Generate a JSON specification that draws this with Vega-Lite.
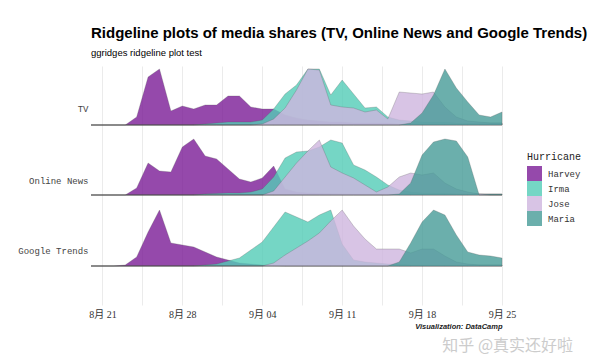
{
  "$schema": "https://vega.github.io/schema/vega-lite/v6.json",
  "width": 411,
  "height": 239,
  "autosize": "none",
  "padding": {"left": 91, "top": 66, "right": 98, "bottom": 55},
  "background": "white",
  "title": {
    "text": "Ridgeline plots of media shares (TV, Online News and Google Trends)",
    "subtitle": "ggridges ridgeline plot test",
    "anchor": "start",
    "frame": "group",
    "font": "Liberation Sans",
    "fontSize": 15,
    "fontWeight": "bold",
    "color": "#000000",
    "subtitleFont": "Liberation Sans",
    "subtitleFontSize": 9.5,
    "subtitleColor": "#000000",
    "subtitlePadding": 7,
    "offset": 9
  },
  "datasets": {
    "ridges": [
      {"m":"TV","h":"Harvey","d":"2017-08-20","v":0},{"m":"TV","h":"Harvey","d":"2017-08-23","v":0},{"m":"TV","h":"Harvey","d":"2017-08-24","v":8},{"m":"TV","h":"Harvey","d":"2017-08-25","v":48},{"m":"TV","h":"Harvey","d":"2017-08-26","v":56},{"m":"TV","h":"Harvey","d":"2017-08-27","v":14},{"m":"TV","h":"Harvey","d":"2017-08-28","v":19},{"m":"TV","h":"Harvey","d":"2017-08-29","v":16},{"m":"TV","h":"Harvey","d":"2017-08-30","v":20},{"m":"TV","h":"Harvey","d":"2017-08-31","v":20},{"m":"TV","h":"Harvey","d":"2017-09-01","v":29},{"m":"TV","h":"Harvey","d":"2017-09-02","v":29},{"m":"TV","h":"Harvey","d":"2017-09-03","v":18},{"m":"TV","h":"Harvey","d":"2017-09-04","v":16},{"m":"TV","h":"Harvey","d":"2017-09-05","v":16},{"m":"TV","h":"Harvey","d":"2017-09-06","v":10},{"m":"TV","h":"Harvey","d":"2017-09-07","v":7},{"m":"TV","h":"Harvey","d":"2017-09-08","v":5},{"m":"TV","h":"Harvey","d":"2017-09-09","v":4},{"m":"TV","h":"Harvey","d":"2017-09-10","v":3},{"m":"TV","h":"Harvey","d":"2017-09-11","v":3},{"m":"TV","h":"Harvey","d":"2017-09-12","v":2},{"m":"TV","h":"Harvey","d":"2017-09-15","v":2},{"m":"TV","h":"Harvey","d":"2017-09-16","v":1},{"m":"TV","h":"Harvey","d":"2017-09-25","v":1},
      {"m":"TV","h":"Irma","d":"2017-08-20","v":0},{"m":"TV","h":"Irma","d":"2017-08-29","v":0},{"m":"TV","h":"Irma","d":"2017-08-30","v":1},{"m":"TV","h":"Irma","d":"2017-08-31","v":2},{"m":"TV","h":"Irma","d":"2017-09-01","v":3},{"m":"TV","h":"Irma","d":"2017-09-03","v":3},{"m":"TV","h":"Irma","d":"2017-09-04","v":5},{"m":"TV","h":"Irma","d":"2017-09-05","v":16},{"m":"TV","h":"Irma","d":"2017-09-06","v":31},{"m":"TV","h":"Irma","d":"2017-09-07","v":40},{"m":"TV","h":"Irma","d":"2017-09-08","v":56},{"m":"TV","h":"Irma","d":"2017-09-09","v":56},{"m":"TV","h":"Irma","d":"2017-09-10","v":30},{"m":"TV","h":"Irma","d":"2017-09-11","v":45},{"m":"TV","h":"Irma","d":"2017-09-12","v":31},{"m":"TV","h":"Irma","d":"2017-09-13","v":17},{"m":"TV","h":"Irma","d":"2017-09-14","v":18},{"m":"TV","h":"Irma","d":"2017-09-15","v":8},{"m":"TV","h":"Irma","d":"2017-09-16","v":5},{"m":"TV","h":"Irma","d":"2017-09-17","v":4},{"m":"TV","h":"Irma","d":"2017-09-18","v":3},{"m":"TV","h":"Irma","d":"2017-09-20","v":3},{"m":"TV","h":"Irma","d":"2017-09-21","v":2},{"m":"TV","h":"Irma","d":"2017-09-25","v":2},
      {"m":"TV","h":"Jose","d":"2017-08-20","v":0},{"m":"TV","h":"Jose","d":"2017-09-03","v":0},{"m":"TV","h":"Jose","d":"2017-09-04","v":1},{"m":"TV","h":"Jose","d":"2017-09-05","v":6},{"m":"TV","h":"Jose","d":"2017-09-06","v":17},{"m":"TV","h":"Jose","d":"2017-09-07","v":35},{"m":"TV","h":"Jose","d":"2017-09-08","v":56},{"m":"TV","h":"Jose","d":"2017-09-09","v":55},{"m":"TV","h":"Jose","d":"2017-09-10","v":20},{"m":"TV","h":"Jose","d":"2017-09-11","v":18},{"m":"TV","h":"Jose","d":"2017-09-12","v":17},{"m":"TV","h":"Jose","d":"2017-09-13","v":13},{"m":"TV","h":"Jose","d":"2017-09-14","v":15},{"m":"TV","h":"Jose","d":"2017-09-15","v":6},{"m":"TV","h":"Jose","d":"2017-09-16","v":33},{"m":"TV","h":"Jose","d":"2017-09-17","v":32},{"m":"TV","h":"Jose","d":"2017-09-18","v":31},{"m":"TV","h":"Jose","d":"2017-09-19","v":33},{"m":"TV","h":"Jose","d":"2017-09-20","v":18},{"m":"TV","h":"Jose","d":"2017-09-21","v":8},{"m":"TV","h":"Jose","d":"2017-09-22","v":4},{"m":"TV","h":"Jose","d":"2017-09-23","v":3},{"m":"TV","h":"Jose","d":"2017-09-24","v":2},{"m":"TV","h":"Jose","d":"2017-09-25","v":2},
      {"m":"TV","h":"Maria","d":"2017-08-20","v":0},{"m":"TV","h":"Maria","d":"2017-09-16","v":0},{"m":"TV","h":"Maria","d":"2017-09-17","v":2},{"m":"TV","h":"Maria","d":"2017-09-18","v":12},{"m":"TV","h":"Maria","d":"2017-09-19","v":30},{"m":"TV","h":"Maria","d":"2017-09-20","v":56},{"m":"TV","h":"Maria","d":"2017-09-21","v":37},{"m":"TV","h":"Maria","d":"2017-09-22","v":23},{"m":"TV","h":"Maria","d":"2017-09-23","v":10},{"m":"TV","h":"Maria","d":"2017-09-24","v":8},{"m":"TV","h":"Maria","d":"2017-09-25","v":13},
      {"m":"ON","h":"Harvey","d":"2017-08-20","v":0},{"m":"ON","h":"Harvey","d":"2017-08-23","v":0},{"m":"ON","h":"Harvey","d":"2017-08-24","v":7},{"m":"ON","h":"Harvey","d":"2017-08-25","v":32},{"m":"ON","h":"Harvey","d":"2017-08-26","v":24},{"m":"ON","h":"Harvey","d":"2017-08-27","v":23},{"m":"ON","h":"Harvey","d":"2017-08-28","v":48},{"m":"ON","h":"Harvey","d":"2017-08-29","v":56},{"m":"ON","h":"Harvey","d":"2017-08-30","v":39},{"m":"ON","h":"Harvey","d":"2017-08-31","v":36},{"m":"ON","h":"Harvey","d":"2017-09-01","v":26},{"m":"ON","h":"Harvey","d":"2017-09-02","v":16},{"m":"ON","h":"Harvey","d":"2017-09-03","v":13},{"m":"ON","h":"Harvey","d":"2017-09-04","v":17},{"m":"ON","h":"Harvey","d":"2017-09-05","v":29},{"m":"ON","h":"Harvey","d":"2017-09-06","v":6},{"m":"ON","h":"Harvey","d":"2017-09-07","v":3},{"m":"ON","h":"Harvey","d":"2017-09-08","v":2},{"m":"ON","h":"Harvey","d":"2017-09-12","v":1},{"m":"ON","h":"Harvey","d":"2017-09-25","v":1},
      {"m":"ON","h":"Irma","d":"2017-08-20","v":0},{"m":"ON","h":"Irma","d":"2017-08-29","v":0},{"m":"ON","h":"Irma","d":"2017-08-30","v":1},{"m":"ON","h":"Irma","d":"2017-09-01","v":2},{"m":"ON","h":"Irma","d":"2017-09-02","v":2},{"m":"ON","h":"Irma","d":"2017-09-03","v":3},{"m":"ON","h":"Irma","d":"2017-09-04","v":6},{"m":"ON","h":"Irma","d":"2017-09-05","v":18},{"m":"ON","h":"Irma","d":"2017-09-06","v":37},{"m":"ON","h":"Irma","d":"2017-09-07","v":43},{"m":"ON","h":"Irma","d":"2017-09-08","v":44},{"m":"ON","h":"Irma","d":"2017-09-09","v":48},{"m":"ON","h":"Irma","d":"2017-09-10","v":55},{"m":"ON","h":"Irma","d":"2017-09-11","v":52},{"m":"ON","h":"Irma","d":"2017-09-12","v":30},{"m":"ON","h":"Irma","d":"2017-09-13","v":25},{"m":"ON","h":"Irma","d":"2017-09-14","v":18},{"m":"ON","h":"Irma","d":"2017-09-15","v":10},{"m":"ON","h":"Irma","d":"2017-09-16","v":5},{"m":"ON","h":"Irma","d":"2017-09-17","v":3},{"m":"ON","h":"Irma","d":"2017-09-18","v":2},{"m":"ON","h":"Irma","d":"2017-09-20","v":2},{"m":"ON","h":"Irma","d":"2017-09-21","v":1},{"m":"ON","h":"Irma","d":"2017-09-25","v":1},
      {"m":"ON","h":"Jose","d":"2017-08-20","v":0},{"m":"ON","h":"Jose","d":"2017-09-04","v":0},{"m":"ON","h":"Jose","d":"2017-09-05","v":4},{"m":"ON","h":"Jose","d":"2017-09-06","v":18},{"m":"ON","h":"Jose","d":"2017-09-07","v":32},{"m":"ON","h":"Jose","d":"2017-09-08","v":44},{"m":"ON","h":"Jose","d":"2017-09-09","v":55},{"m":"ON","h":"Jose","d":"2017-09-10","v":28},{"m":"ON","h":"Jose","d":"2017-09-11","v":22},{"m":"ON","h":"Jose","d":"2017-09-12","v":17},{"m":"ON","h":"Jose","d":"2017-09-13","v":10},{"m":"ON","h":"Jose","d":"2017-09-14","v":3},{"m":"ON","h":"Jose","d":"2017-09-15","v":8},{"m":"ON","h":"Jose","d":"2017-09-16","v":18},{"m":"ON","h":"Jose","d":"2017-09-17","v":22},{"m":"ON","h":"Jose","d":"2017-09-18","v":20},{"m":"ON","h":"Jose","d":"2017-09-19","v":22},{"m":"ON","h":"Jose","d":"2017-09-20","v":12},{"m":"ON","h":"Jose","d":"2017-09-21","v":6},{"m":"ON","h":"Jose","d":"2017-09-22","v":3},{"m":"ON","h":"Jose","d":"2017-09-23","v":1},{"m":"ON","h":"Jose","d":"2017-09-24","v":0},{"m":"ON","h":"Jose","d":"2017-09-25","v":0},
      {"m":"ON","h":"Maria","d":"2017-08-20","v":0},{"m":"ON","h":"Maria","d":"2017-09-15","v":0},{"m":"ON","h":"Maria","d":"2017-09-16","v":1},{"m":"ON","h":"Maria","d":"2017-09-17","v":12},{"m":"ON","h":"Maria","d":"2017-09-18","v":40},{"m":"ON","h":"Maria","d":"2017-09-19","v":53},{"m":"ON","h":"Maria","d":"2017-09-20","v":56},{"m":"ON","h":"Maria","d":"2017-09-21","v":54},{"m":"ON","h":"Maria","d":"2017-09-22","v":38},{"m":"ON","h":"Maria","d":"2017-09-23","v":0},{"m":"ON","h":"Maria","d":"2017-09-25","v":0},
      {"m":"GT","h":"Harvey","d":"2017-08-20","v":0},{"m":"GT","h":"Harvey","d":"2017-08-22","v":0},{"m":"GT","h":"Harvey","d":"2017-08-23","v":1},{"m":"GT","h":"Harvey","d":"2017-08-24","v":9},{"m":"GT","h":"Harvey","d":"2017-08-25","v":34},{"m":"GT","h":"Harvey","d":"2017-08-26","v":56},{"m":"GT","h":"Harvey","d":"2017-08-27","v":23},{"m":"GT","h":"Harvey","d":"2017-08-28","v":21},{"m":"GT","h":"Harvey","d":"2017-08-29","v":19},{"m":"GT","h":"Harvey","d":"2017-08-30","v":14},{"m":"GT","h":"Harvey","d":"2017-08-31","v":9},{"m":"GT","h":"Harvey","d":"2017-09-01","v":6},{"m":"GT","h":"Harvey","d":"2017-09-02","v":3},{"m":"GT","h":"Harvey","d":"2017-09-03","v":2},{"m":"GT","h":"Harvey","d":"2017-09-04","v":1},{"m":"GT","h":"Harvey","d":"2017-09-06","v":0},{"m":"GT","h":"Harvey","d":"2017-09-25","v":0},
      {"m":"GT","h":"Irma","d":"2017-08-20","v":0},{"m":"GT","h":"Irma","d":"2017-08-29","v":0},{"m":"GT","h":"Irma","d":"2017-08-30","v":1},{"m":"GT","h":"Irma","d":"2017-08-31","v":2},{"m":"GT","h":"Irma","d":"2017-09-01","v":5},{"m":"GT","h":"Irma","d":"2017-09-02","v":8},{"m":"GT","h":"Irma","d":"2017-09-03","v":16},{"m":"GT","h":"Irma","d":"2017-09-04","v":24},{"m":"GT","h":"Irma","d":"2017-09-05","v":39},{"m":"GT","h":"Irma","d":"2017-09-06","v":54},{"m":"GT","h":"Irma","d":"2017-09-07","v":49},{"m":"GT","h":"Irma","d":"2017-09-08","v":44},{"m":"GT","h":"Irma","d":"2017-09-09","v":51},{"m":"GT","h":"Irma","d":"2017-09-10","v":56},{"m":"GT","h":"Irma","d":"2017-09-11","v":22},{"m":"GT","h":"Irma","d":"2017-09-12","v":6},{"m":"GT","h":"Irma","d":"2017-09-13","v":4},{"m":"GT","h":"Irma","d":"2017-09-14","v":3},{"m":"GT","h":"Irma","d":"2017-09-15","v":2},{"m":"GT","h":"Irma","d":"2017-09-16","v":2},{"m":"GT","h":"Irma","d":"2017-09-17","v":1},{"m":"GT","h":"Irma","d":"2017-09-25","v":1},
      {"m":"GT","h":"Jose","d":"2017-08-20","v":0},{"m":"GT","h":"Jose","d":"2017-09-04","v":0},{"m":"GT","h":"Jose","d":"2017-09-05","v":3},{"m":"GT","h":"Jose","d":"2017-09-06","v":11},{"m":"GT","h":"Jose","d":"2017-09-07","v":18},{"m":"GT","h":"Jose","d":"2017-09-08","v":25},{"m":"GT","h":"Jose","d":"2017-09-09","v":33},{"m":"GT","h":"Jose","d":"2017-09-10","v":45},{"m":"GT","h":"Jose","d":"2017-09-11","v":56},{"m":"GT","h":"Jose","d":"2017-09-12","v":40},{"m":"GT","h":"Jose","d":"2017-09-13","v":27},{"m":"GT","h":"Jose","d":"2017-09-14","v":17},{"m":"GT","h":"Jose","d":"2017-09-15","v":17},{"m":"GT","h":"Jose","d":"2017-09-16","v":17},{"m":"GT","h":"Jose","d":"2017-09-17","v":13},{"m":"GT","h":"Jose","d":"2017-09-18","v":17},{"m":"GT","h":"Jose","d":"2017-09-19","v":17},{"m":"GT","h":"Jose","d":"2017-09-20","v":10},{"m":"GT","h":"Jose","d":"2017-09-21","v":4},{"m":"GT","h":"Jose","d":"2017-09-22","v":2},{"m":"GT","h":"Jose","d":"2017-09-23","v":1},{"m":"GT","h":"Jose","d":"2017-09-25","v":1},
      {"m":"GT","h":"Maria","d":"2017-08-20","v":0},{"m":"GT","h":"Maria","d":"2017-09-15","v":0},{"m":"GT","h":"Maria","d":"2017-09-16","v":4},{"m":"GT","h":"Maria","d":"2017-09-17","v":23},{"m":"GT","h":"Maria","d":"2017-09-18","v":44},{"m":"GT","h":"Maria","d":"2017-09-19","v":56},{"m":"GT","h":"Maria","d":"2017-09-20","v":51},{"m":"GT","h":"Maria","d":"2017-09-21","v":31},{"m":"GT","h":"Maria","d":"2017-09-22","v":14},{"m":"GT","h":"Maria","d":"2017-09-23","v":11},{"m":"GT","h":"Maria","d":"2017-09-24","v":10},{"m":"GT","h":"Maria","d":"2017-09-25","v":8}
    ]
  },
  "data": {"name": "ridges"},
  "encoding": {
    "x": {
      "field": "d",
      "type": "temporal",
      "scale": {
        "type": "utc",
        "domain": [
          {"year": 2017, "month": 8, "date": 20, "utc": true},
          {"year": 2017, "month": 9, "date": 25, "utc": true}
        ]
      },
      "axis": {
        "title": "Visualization: DataCamp",
        "titleAnchor": "end",
        "titleFont": "Liberation Sans",
        "titleFontSize": 7.5,
        "titleFontStyle": "italic",
        "titleFontWeight": "bold",
        "titleColor": "#222222",
        "titlePadding": 3,
        "values": [
          {"year": 2017, "month": 8, "date": 21, "utc": true},
          {"year": 2017, "month": 8, "date": 24, "hours": 12, "utc": true},
          {"year": 2017, "month": 8, "date": 28, "utc": true},
          {"year": 2017, "month": 8, "date": 31, "hours": 12, "utc": true},
          {"year": 2017, "month": 9, "date": 4, "utc": true},
          {"year": 2017, "month": 9, "date": 7, "hours": 12, "utc": true},
          {"year": 2017, "month": 9, "date": 11, "utc": true},
          {"year": 2017, "month": 9, "date": 14, "hours": 12, "utc": true},
          {"year": 2017, "month": 9, "date": 18, "utc": true},
          {"year": 2017, "month": 9, "date": 21, "hours": 12, "utc": true},
          {"year": 2017, "month": 9, "date": 25, "utc": true}
        ],
        "labelExpr": "utchours(datum.value) == 12 ? '' : utcFormat(datum.value, '%-m月 %d')",
        "labelFont": "Liberation Serif, Noto Sans CJK SC",
        "labelFontSize": 10,
        "labelColor": "#333333",
        "labelPadding": 4,
        "labelFlush": false,
        "labelOverlap": false,
        "domain": false,
        "ticks": false,
        "grid": true,
        "gridColor": "#e6e6e6",
        "gridWidth": 0.8
      }
    }
  },
  "layer": [
    {
      "transform": [{"filter": "datum.m == 'TV'"}],
      "mark": {"type": "area", "interpolate": "linear", "fillOpacity": 0.8, "stroke": "#555555", "strokeWidth": 0.5, "strokeOpacity": 0.5},
      "encoding": {
        "y": {
          "field": "v", "type": "quantitative", "stack": null,
          "scale": {"domain": [-180, 59], "nice": false, "zero": false},
          "axis": {"orient": "left", "values": [17], "labelExpr": "'TV'", "title": null, "domain": false, "ticks": false, "grid": false, "labelFont": "Liberation Mono", "labelFontSize": 9, "labelColor": "#444444", "labelPadding": 3}
        },
        "color": {"field": "h", "type": "nominal", "title": "Hurricane",
          "scale": {"domain": ["Harvey", "Irma", "Jose", "Maria"], "range": ["#7a1c96", "#52ccb6", "#ceb5de", "#469b97"]}}
      }
    },
    {
      "transform": [{"filter": "datum.m == 'ON'"}],
      "mark": {"type": "area", "interpolate": "linear", "fillOpacity": 0.8, "stroke": "#555555", "strokeWidth": 0.5, "strokeOpacity": 0.5},
      "encoding": {
        "y": {
          "field": "v", "type": "quantitative", "stack": null,
          "scale": {"domain": [-110, 129], "nice": false, "zero": false},
          "axis": {"orient": "left", "values": [15], "labelExpr": "'Online News'", "title": null, "domain": false, "ticks": false, "grid": false, "labelFont": "Liberation Mono", "labelFontSize": 9, "labelColor": "#444444", "labelPadding": 3}
        },
        "color": {"field": "h", "type": "nominal", "title": "Hurricane",
          "scale": {"domain": ["Harvey", "Irma", "Jose", "Maria"], "range": ["#7a1c96", "#52ccb6", "#ceb5de", "#469b97"]}}
      }
    },
    {
      "transform": [{"filter": "datum.m == 'GT'"}],
      "mark": {"type": "area", "interpolate": "linear", "fillOpacity": 0.8, "stroke": "#555555", "strokeWidth": 0.5, "strokeOpacity": 0.5},
      "encoding": {
        "y": {
          "field": "v", "type": "quantitative", "stack": null,
          "scale": {"domain": [-39, 200], "nice": false, "zero": false},
          "axis": {"orient": "left", "values": [16], "labelExpr": "'Google Trends'", "title": null, "domain": false, "ticks": false, "grid": false, "labelFont": "Liberation Mono", "labelFontSize": 9, "labelColor": "#444444", "labelPadding": 3}
        },
        "color": {"field": "h", "type": "nominal", "title": "Hurricane",
          "scale": {"domain": ["Harvey", "Irma", "Jose", "Maria"], "range": ["#7a1c96", "#52ccb6", "#ceb5de", "#469b97"]}}
      }
    },
    {
      "data": {"values": [{"wm": "知乎 @真实还好啦", "wx": "2017-09-25T12:00:00Z", "wy": -80}]},
      "mark": {"type": "text", "font": "Noto Sans CJK SC", "fontSize": 16, "fill": "#cccccc", "align": "center", "baseline": "middle", "clip": false},
      "encoding": {
        "x": {"field": "wx", "type": "temporal"},
        "y": {"field": "wy", "type": "quantitative", "scale": {"domain": [-39, 200], "nice": false, "zero": false}, "axis": null},
        "text": {"field": "wm"}
      }
    }
  ],
  "resolve": {"scale": {"y": "independent"}},
  "config": {
    "view": {"stroke": null},
    "legend": {
      "orient": "none",
      "legendX": 436,
      "legendY": 86,
      "titleFont": "Liberation Mono",
      "titleFontSize": 10,
      "titleFontWeight": "normal",
      "titleColor": "#222222",
      "titlePadding": 4,
      "labelFont": "Liberation Mono",
      "labelFontSize": 9,
      "labelColor": "#333333",
      "labelOffset": 6,
      "symbolType": "square",
      "symbolSize": 225,
      "symbolStrokeWidth": 0,
      "symbolOpacity": 0.8,
      "rowPadding": 0
    }
  }
}
